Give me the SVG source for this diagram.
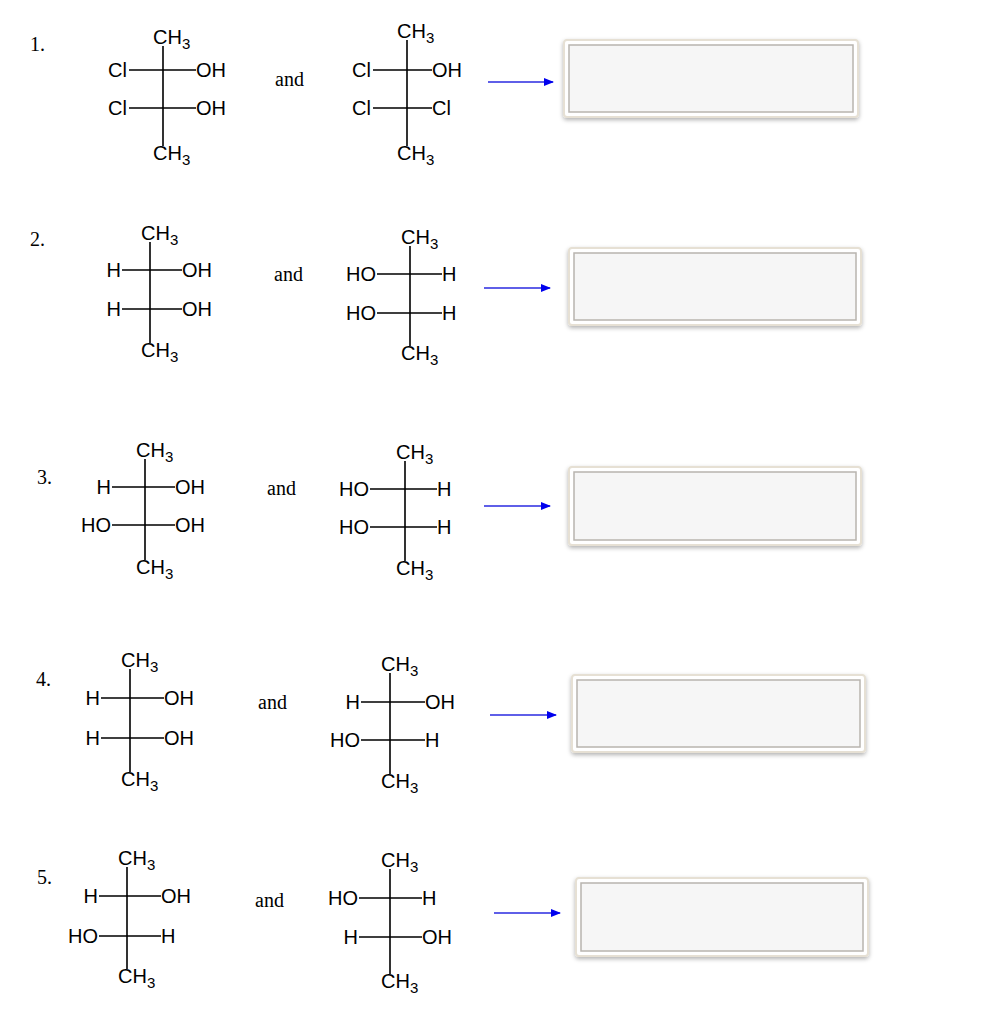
<svg xmlns="http://www.w3.org/2000/svg" width="987" height="1024" viewBox="0 0 987 1024">
<style>
.l{font-family:"Liberation Sans",Arial,sans-serif;font-size:20px;fill:#000}
.s{font-size:15px}
.t{font-family:"Liberation Serif","Times New Roman",serif;font-size:20px;fill:#000}
.b{stroke:#000;stroke-width:1.6;fill:none}
.a{stroke:#2a2ae0;stroke-width:1.3;fill:none}
.o{fill:#fff;stroke:#e6e0d4;stroke-width:2}
.i{fill:#f6f6f6;stroke:#b8b4ae;stroke-width:1.5}
</style>
<defs>
<marker id="ah" markerWidth="10" markerHeight="8" refX="9" refY="4" orient="auto" markerUnits="userSpaceOnUse"><path d="M0,0L10,4L0,8Z" fill="#0000ee"/></marker>
<filter id="sh" x="-5%" y="-15%" width="110%" height="140%"><feDropShadow dx="0" dy="2" stdDeviation="2" flood-color="#000" flood-opacity="0.3"/></filter>
</defs>
<g id="numbers" class="t">
<text x="30" y="51">1.</text><text x="30" y="246">2.</text><text x="37" y="484">3.</text><text x="36" y="686">4.</text><text x="37" y="884">5.</text>
</g>
<g id="ands" class="t">
<text x="275" y="86">and</text><text x="274" y="281">and</text><text x="267" y="495">and</text><text x="258" y="709">and</text><text x="255" y="907">and</text>
</g>
<g id="m1L"><path class="b" d="M163,46V146M129,70H196M129,108H196"/>
<text class="l" x="153" y="44">CH<tspan class="s" dy="5">3</tspan></text><text class="l" x="153" y="160">CH<tspan class="s" dy="5">3</tspan></text>
<text class="l" x="127" y="77" text-anchor="end">Cl</text><text class="l" x="196" y="77">OH</text>
<text class="l" x="127" y="115" text-anchor="end">Cl</text><text class="l" x="196" y="115">OH</text></g>
<g id="m1R"><path class="b" d="M407,40V146M373,70H432M373,108H432"/>
<text class="l" x="397" y="38">CH<tspan class="s" dy="5">3</tspan></text><text class="l" x="397" y="160">CH<tspan class="s" dy="5">3</tspan></text>
<text class="l" x="371" y="77" text-anchor="end">Cl</text><text class="l" x="432" y="77">OH</text>
<text class="l" x="371" y="115" text-anchor="end">Cl</text><text class="l" x="432" y="115">Cl</text></g>
<g id="m2L"><path class="b" d="M150,242V343M122,270H182M122,309H182"/>
<text class="l" x="141" y="240">CH<tspan class="s" dy="5">3</tspan></text><text class="l" x="141" y="357">CH<tspan class="s" dy="5">3</tspan></text>
<text class="l" x="121" y="277" text-anchor="end">H</text><text class="l" x="182" y="277">OH</text>
<text class="l" x="121" y="316" text-anchor="end">H</text><text class="l" x="182" y="316">OH</text></g>
<g id="m2R"><path class="b" d="M410,246V346M377,274H442M377,313H442"/>
<text class="l" x="401" y="244">CH<tspan class="s" dy="5">3</tspan></text><text class="l" x="401" y="360">CH<tspan class="s" dy="5">3</tspan></text>
<text class="l" x="376" y="281" text-anchor="end">HO</text><text class="l" x="442" y="281">H</text>
<text class="l" x="376" y="320" text-anchor="end">HO</text><text class="l" x="442" y="320">H</text></g>
<g id="m3L"><path class="b" d="M145,459V560M112,487H175M112,525H175"/>
<text class="l" x="136" y="457">CH<tspan class="s" dy="5">3</tspan></text><text class="l" x="136" y="574">CH<tspan class="s" dy="5">3</tspan></text>
<text class="l" x="111" y="494" text-anchor="end">H</text><text class="l" x="175" y="494">OH</text>
<text class="l" x="111" y="532" text-anchor="end">HO</text><text class="l" x="175" y="532">OH</text></g>
<g id="m3R"><path class="b" d="M405,461V561M370,489H437M370,527H437"/>
<text class="l" x="396" y="459">CH<tspan class="s" dy="5">3</tspan></text><text class="l" x="396" y="575">CH<tspan class="s" dy="5">3</tspan></text>
<text class="l" x="369" y="496" text-anchor="end">HO</text><text class="l" x="437" y="496">H</text>
<text class="l" x="369" y="534" text-anchor="end">HO</text><text class="l" x="437" y="534">H</text></g>
<g id="m4L"><path class="b" d="M130,669V772M101,698H164M101,738H164"/>
<text class="l" x="121" y="667">CH<tspan class="s" dy="5">3</tspan></text><text class="l" x="121" y="786">CH<tspan class="s" dy="5">3</tspan></text>
<text class="l" x="100" y="705" text-anchor="end">H</text><text class="l" x="164" y="705">OH</text>
<text class="l" x="100" y="745" text-anchor="end">H</text><text class="l" x="164" y="745">OH</text></g>
<g id="m4R"><path class="b" d="M390,673V774M361,702H425M361,740H425"/>
<text class="l" x="381" y="671">CH<tspan class="s" dy="5">3</tspan></text><text class="l" x="381" y="788">CH<tspan class="s" dy="5">3</tspan></text>
<text class="l" x="360" y="709" text-anchor="end">H</text><text class="l" x="425" y="709">OH</text>
<text class="l" x="360" y="747" text-anchor="end">HO</text><text class="l" x="425" y="747">H</text></g>
<g id="m5L"><path class="b" d="M127,867V969M99,896H161M99,936H161"/>
<text class="l" x="118" y="865">CH<tspan class="s" dy="5">3</tspan></text><text class="l" x="118" y="983">CH<tspan class="s" dy="5">3</tspan></text>
<text class="l" x="98" y="903" text-anchor="end">H</text><text class="l" x="161" y="903">OH</text>
<text class="l" x="98" y="943" text-anchor="end">HO</text><text class="l" x="161" y="943">H</text></g>
<g id="m5R"><path class="b" d="M390,869V974M359,898H422M359,937H422"/>
<text class="l" x="381" y="867">CH<tspan class="s" dy="5">3</tspan></text><text class="l" x="381" y="988">CH<tspan class="s" dy="5">3</tspan></text>
<text class="l" x="358" y="905" text-anchor="end">HO</text><text class="l" x="422" y="905">H</text>
<text class="l" x="358" y="944" text-anchor="end">H</text><text class="l" x="422" y="944">OH</text></g>
<g id="connectors">
<path class="a" d="M488,82H553" marker-end="url(#ah)"/>
<path class="a" d="M484,288H550" marker-end="url(#ah)"/>
<path class="a" d="M484,506H550" marker-end="url(#ah)"/>
<path class="a" d="M490,715H556" marker-end="url(#ah)"/>
<path class="a" d="M494,913H560" marker-end="url(#ah)"/>
</g>
<g id="box1" filter="url(#sh)"><rect class="o" x="564" y="40" width="294" height="77" rx="3"/><rect class="i" x="569" y="45" width="284" height="67"/></g>
<g id="box2" filter="url(#sh)"><rect class="o" x="569" y="248" width="292" height="77" rx="3"/><rect class="i" x="574" y="253" width="282" height="67"/></g>
<g id="box3" filter="url(#sh)"><rect class="o" x="569" y="467" width="292" height="78" rx="3"/><rect class="i" x="574" y="472" width="282" height="68"/></g>
<g id="box4" filter="url(#sh)"><rect class="o" x="572" y="675" width="293" height="77" rx="3"/><rect class="i" x="577" y="680" width="283" height="67"/></g>
<g id="box5" filter="url(#sh)"><rect class="o" x="576" y="878" width="292" height="78" rx="3"/><rect class="i" x="581" y="883" width="282" height="68"/></g>
</svg>
